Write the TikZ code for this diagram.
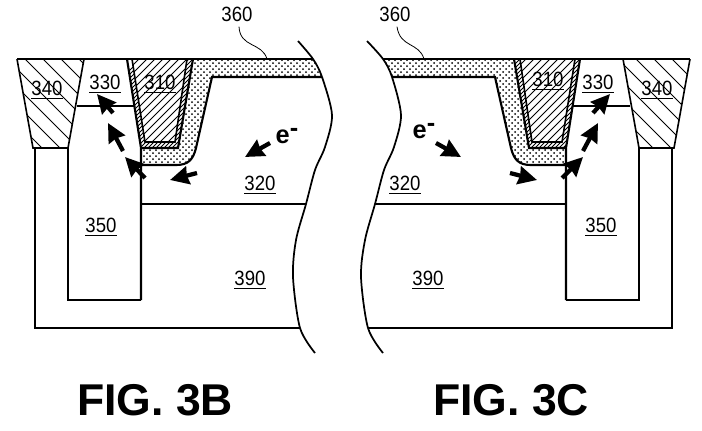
\documentclass[tikz,border=0pt]{standalone}
\usepackage{fontspec}
\setmainfont{Liberation Sans}
\newfontfamily\numfont[FakeStretch=0.9]{Liberation Sans}
\usetikzlibrary{arrows.meta}
\tikzset{
  thickline/.style={line width=1.6pt,line join=miter},
  midline/.style={line width=1.2pt},
  hatchline/.style={line width=0.65pt},
  finehatch/.style={line width=0.6pt},
  numlabel/.style={font=\fontsize{15.5pt}{17pt}\numfont,inner sep=0pt},
  figlabel/.style={font=\fontsize{33.4pt}{36pt}\selectfont\bfseries,inner sep=0pt},
  elabel/.style={font=\fontsize{19pt}{22pt}\selectfont\bfseries,inner sep=0pt},
  carrier/.style={line width=3.2pt,-{Stealth[length=14pt,width=13.5pt,inset=1pt]}},
  leader/.style={line width=0.6pt},
  wavecurve/.style={line width=1.3pt}
}
\newcommand{\xsection}[2]{%
 \begin{scope}[#2]
  % dotted layer 360
  \begin{scope}
   \clip (141,59) -- (360,59) -- (360,77) -- (212,77) -- (196,148)
      .. controls (193,160) and (188,165) .. (176,165) -- (141,165) -- cycle;
   \foreach \yy in {60,66,...,172}{\foreach \xx in {120,126,...,360}{\fill (\xx,\yy) circle (1);}}
   \foreach \yy in {63,69,...,172}{\foreach \xx in {123,129,...,360}{\fill (\xx,\yy) circle (1);}}
  \end{scope}
  % clear the trench
  \fill[white] (127,59) -- (193,59) -- (178,148) -- (141,148) -- cycle;
  % liner hatching
  \begin{scope}
   \clip (127,59) -- (193,59) -- (178,148) -- (141,148) -- cycle;
   \foreach \k in {90,94,...,240}{\draw[finehatch] (\k-#1*60,170) -- (\k+#1*80,30);}
  \end{scope}
  % gate 310
  \fill[white] (132,59) -- (187,59) -- (175,142) -- (145,142) -- cycle;
  \begin{scope}
   \clip (132,59) -- (187,59) -- (175,142) -- (145,142) -- cycle;
   \foreach \k in {80,88,...,260}{\draw[hatchline] (\k-#1*60,170) -- (\k+#1*80,30);}
  \end{scope}
  \draw[midline] (132,59) -- (145,142) -- (175,142) -- (187,59);
  % isolation 340
  \begin{scope}
   \clip (17,59) -- (84,59) -- (68,148) -- (33,148) -- cycle;
   \foreach \k in {-60,-42,...,160}{\draw[hatchline] (\k-#1*50,50) -- (\k+#1*70,170);}
  \end{scope}
  \draw[midline] (17,59) -- (33,148) -- (68,148) -- (84,59);
  % structure lines
  \draw[midline] (77,106) -- (134,106);
  \draw[midline] (141,204) -- (360,204);
  \draw[midline] (35,148) -- (35,328) -- (360,328);
  \draw[midline] (68,148) -- (68,300) -- (141,300);
  \draw[thickline] (127,59) -- (141,148) -- (141,300);
  \draw[thickline] (141,148) -- (178,148) -- (193,59);
  \draw[thickline] (141,165) -- (176,165) .. controls (188,165) and (193,160) .. (196,148) -- (212,77) -- (360,77);
  \draw[thickline] (17,59) -- (360,59);
 \end{scope}}
\newcommand{\leftwave}{(298,41) (313,59) (322,77) (332,115) (325,147) (315,170) (306,204) (296,240) (293,277) (300,328) (315,353)}
\newcommand{\rightwave}{(367,41) (383,59) (392,77) (401,115) (394,147) (384,170) (375,204) (365,240) (361,277) (368,328) (383,353)}
\begin{document}
\begin{tikzpicture}[x=0.75pt,y=-0.75pt]
\useasboundingbox (0,0) rectangle (702,430);
\fill[white] (0,0) rectangle (702,430);
\xsection{1}{}
\xsection{-1}{xshift=530.25pt,xscale=-1}
% break curves with white masks
\fill[white] plot[smooth] coordinates {\leftwave} -- (353,353) -- (353,41) -- cycle;
\fill[white] plot[smooth] coordinates {\rightwave} -- (353,353) -- (353,41) -- cycle;
\draw[wavecurve] plot[smooth] coordinates {\leftwave};
\draw[wavecurve] plot[smooth] coordinates {\rightwave};
% labels
\node[numlabel] (a360) at (237,14) {360};
\node[numlabel] (b360) at (395,14) {360};
\coordinate (a360end) at (267,59);
\coordinate (b360end) at (424,59);
\draw[leader] (a360.south)++(2,5) .. controls (240,48) and (262,42) .. (a360end);
\draw[leader] (b360.south)++(2,5) .. controls (400,48) and (419,42) .. (b360end);
\node[numlabel] (a340) at (47,90) {\underline{340}};
\node[numlabel] (a330) at (105,84) {\underline{330}};
\node[numlabel] (a310) at (160,84) {\underline{310}};
\node[numlabel] (a320) at (260,185) {\underline{320}};
\node[numlabel] (a350) at (101,227) {\underline{350}};
\node[numlabel] (a390) at (250,280) {\underline{390}};
\node[numlabel] (b340) at (657,90) {\underline{340}};
\node[numlabel] (b330) at (598,84) {\underline{330}};
\node[numlabel] (b310) at (548,81) {\underline{310}};
\node[numlabel] (b320) at (405,185) {\underline{320}};
\node[numlabel] (b350) at (601,227) {\underline{350}};
\node[numlabel] (b390) at (428,280) {\underline{390}};
\node[elabel] (ae) at (287,136) {e\raisebox{5pt}{-}};
\node[elabel] (be) at (424,131) {e\raisebox{5pt}{-}};
% arrows
\coordinate (l1s) at (113,113); \coordinate (l1t) at (97,94);
\coordinate (l2s) at (123,151); \coordinate (l2t) at (108,123);
\coordinate (l3s) at (145,178); \coordinate (l3t) at (125,157);
\coordinate (l4s) at (197,173); \coordinate (l4t) at (170,180);
\coordinate (l5s) at (270,143); \coordinate (l5t) at (245,157);
\coordinate (r1s) at (593,113); \coordinate (r1t) at (610,94);
\coordinate (r2s) at (583,151); \coordinate (r2t) at (598,123);
\coordinate (r3s) at (562,178); \coordinate (r3t) at (583,157);
\coordinate (r4s) at (510,173); \coordinate (r4t) at (537,180);
\coordinate (r5s) at (436,143); \coordinate (r5t) at (461,157);
\foreach \p in {l1,l2,l3,l4,l5,r1,r2,r3,r4,r5}{\draw[carrier] (\p s) -- (\p t);}
\node[figlabel] (f3b) at (155,400) {FIG. 3B};
\node[figlabel] (f3c) at (511,400) {FIG. 3C};
\end{tikzpicture}
\end{document}
